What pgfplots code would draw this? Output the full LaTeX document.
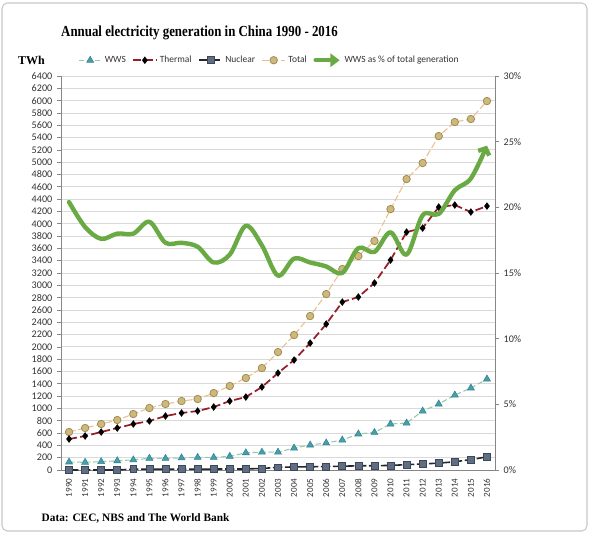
\documentclass[border=0pt]{standalone}
\usepackage{pgfplots}
\pgfplotsset{compat=1.18}
\usepackage{fontspec}
\setmainfont{Liberation Serif}
\newfontfamily\calibri{Carlito}
\usetikzlibrary{arrows.meta}

\definecolor{gridgray}{RGB}{217,217,217}
\definecolor{axisgray}{RGB}{134,134,134}
\definecolor{wwsline}{RGB}{150,200,170}
\definecolor{wwsfill}{RGB}{70,160,170}
\definecolor{wwsedge}{RGB}{50,130,140}
\definecolor{thermline}{RGB}{150,30,40}
\definecolor{nucfill}{RGB}{95,110,130}
\definecolor{nucedge}{RGB}{60,72,90}
\definecolor{totline}{RGB}{235,190,140}
\definecolor{totfill}{RGB}{205,185,125}
\definecolor{totedge}{RGB}{160,140,80}
\definecolor{sharegreen}{RGB}{106,170,68}

% Annual generation, TWh
\pgfplotstableread{
year  wws   thermal nuclear total
1990  130   503     0       617
1991  125   552     0       682
1992  135   617     0       747
1993  150   682     0       812
1994  165   747     14      909
1995  190   796     13      1007
1996  188   877     14      1072
1997  196   926     14      1120
1998  204   958     14      1153
1999  204   1023    15      1250
2000  222   1120    17      1364
2001  280   1185    17      1494
2002  290   1348    25      1656
2003  290   1575    43      1916
2004  357   1786    50      2192
2005  406   2062    53      2501
2006  439   2371    55      2858
2007  487   2728    62      3264
2008  585   2810    68      3475
2009  610   3037    70      3719
2010  747   3410    74      4238
2011  763   3865    87      4726
2012  958   3930    98      4986
2013  1072  4271    112     5424
2014  1218  4304    133     5652
2015  1332  4190    170     5701
2016  1478  4287    213     5993
}\gen

% WWS share of total generation, percent
\pgfplotstableread{
year  share
1990  20.4
1991  18.5
1992  17.6
1993  18.0
1994  18.0
1995  18.9
1996  17.3
1997  17.3
1998  17.0
1999  15.8
2000  16.4
2001  18.6
2002  17.1
2003  14.8
2004  16.1
2005  15.8
2006  15.5
2007  15.0
2008  16.9
2009  16.6
2010  18.1
2011  16.4
2012  19.4
2013  19.5
2014  21.3
2015  22.2
2016  24.7
}\share

\tikzset{
  wwsstyle/.style={draw=wwsline, line width=0.8pt, dash pattern=on 4pt off 2pt,
    mark=triangle*, mark size=3pt, mark options={solid, fill=wwsfill, draw=wwsedge, line width=0.4pt}},
  thermstyle/.style={draw=thermline, line width=1.3pt, dash pattern=on 6pt off 2.5pt,
    mark=diamond*, mark size=1.8pt, mark options={solid, fill=black, draw=black}},
  nucstyle/.style={draw=black!85, line width=1.2pt, dash pattern=on 7pt off 2pt,
    mark=square*, mark size=2.6pt, mark options={solid, fill=nucfill, draw=nucedge, line width=0.5pt}},
  totstyle/.style={draw=totline, line width=0.8pt, dash pattern=on 5pt off 2pt,
    mark=*, mark size=2.8pt, mark options={solid, fill=totfill, draw=totedge, line width=0.6pt}},
}

\pgfplotsset{
  twin/.style={
    at={(45.75pt,47.25pt)}, anchor=south west,
    scale only axis, width=325.5pt, height=295.5pt,
    xmin=1989.5, xmax=2016.5,
    /pgf/number format/1000 sep={},
    /pgf/number format/assume math mode=true,
    tick label style={font=\calibri\fontsize{7.6}{9}\selectfont, text=black!80},
    axis line style={draw=axisgray, line width=0.6pt},
    tick style={draw=axisgray, line width=0.5pt},
    major tick length=3pt,
    clip=false,
  }
}

\begin{document}
\begin{tikzpicture}[x=0.75pt,y=0.75pt]
\useasboundingbox (0,0) rectangle (590,533);
\draw[draw=black!22, line width=0.8pt, rounded corners=4pt] (2,2) rectangle (587,530);

\begin{axis}[twin,
  ymin=0, ymax=6400,
  ytick={0,200,...,6400},
  ytick align=outside,
  axis y line*=left, axis x line*=bottom,
  xtick={1990,...,2016},
  every major x tick/.append style={draw=none},
  minor x tick num=1,
  xtick align=outside,
  xminorgrids, ymajorgrids,
  grid style={draw=gridgray, line width=0.6pt},
  minor grid style={draw=gridgray, line width=0.6pt},
  xticklabel style={rotate=90, anchor=east, font=\calibri\fontsize{6.8}{8}\selectfont},
]
\addplot[totstyle]     table[x=year, y=total]   {\gen};
\addplot[thermstyle]   table[x=year, y=thermal] {\gen};
\addplot[wwsstyle]     table[x=year, y=wws]     {\gen};
\addplot[nucstyle]     table[x=year, y=nuclear] {\gen};
\end{axis}

\begin{axis}[twin,
  ymin=0, ymax=30,
  ytick={0,5,...,30},
  ytick align=outside,
  yticklabel={\pgfmathprintnumber{\tick}\%},
  axis y line*=right, axis x line=none,
  legend columns=-1,
  legend style={draw=none, fill=none, at={(0.03,1.04)}, anchor=west,
    font=\calibri\fontsize{7.1}{8.5}\selectfont, text=black!80,
    /tikz/every even column/.append style={column sep=3pt}},
]
\addlegendimage{wwsstyle}\addlegendentry{WWS}
\addlegendimage{thermstyle}\addlegendentry{Thermal}
\addlegendimage{nucstyle}\addlegendentry{Nuclear}
\addlegendimage{totstyle}\addlegendentry{Total}
\addplot[draw=sharegreen, line width=3.3pt, smooth, tension=0.55, line cap=round, line join=round,
  -{Straight Barb[length=4pt, width=9pt]},
  legend image code/.code={\draw[draw=sharegreen, line width=3.3pt, -{Triangle[length=7pt,width=10pt]}] (0pt,0pt) -- (18pt,0pt);}]
  table[x=year, y=share] {\share};
\addlegendentry{WWS as \% of total generation}
\end{axis}

\node[font=\bfseries\fontsize{11.5}{13}\selectfont] at (199.5,500) {\scalebox{0.84}[1]{Annual electricity generation in China 1990 - 2016}};
\node[font=\bfseries\fontsize{9}{10}\selectfont] at (31.5,473) {TWh};
\node[anchor=west, font=\bfseries\fontsize{8.5}{10}\selectfont] at (37,15) {Data: CEC, NBS and The World Bank};
\end{tikzpicture}
\end{document}
